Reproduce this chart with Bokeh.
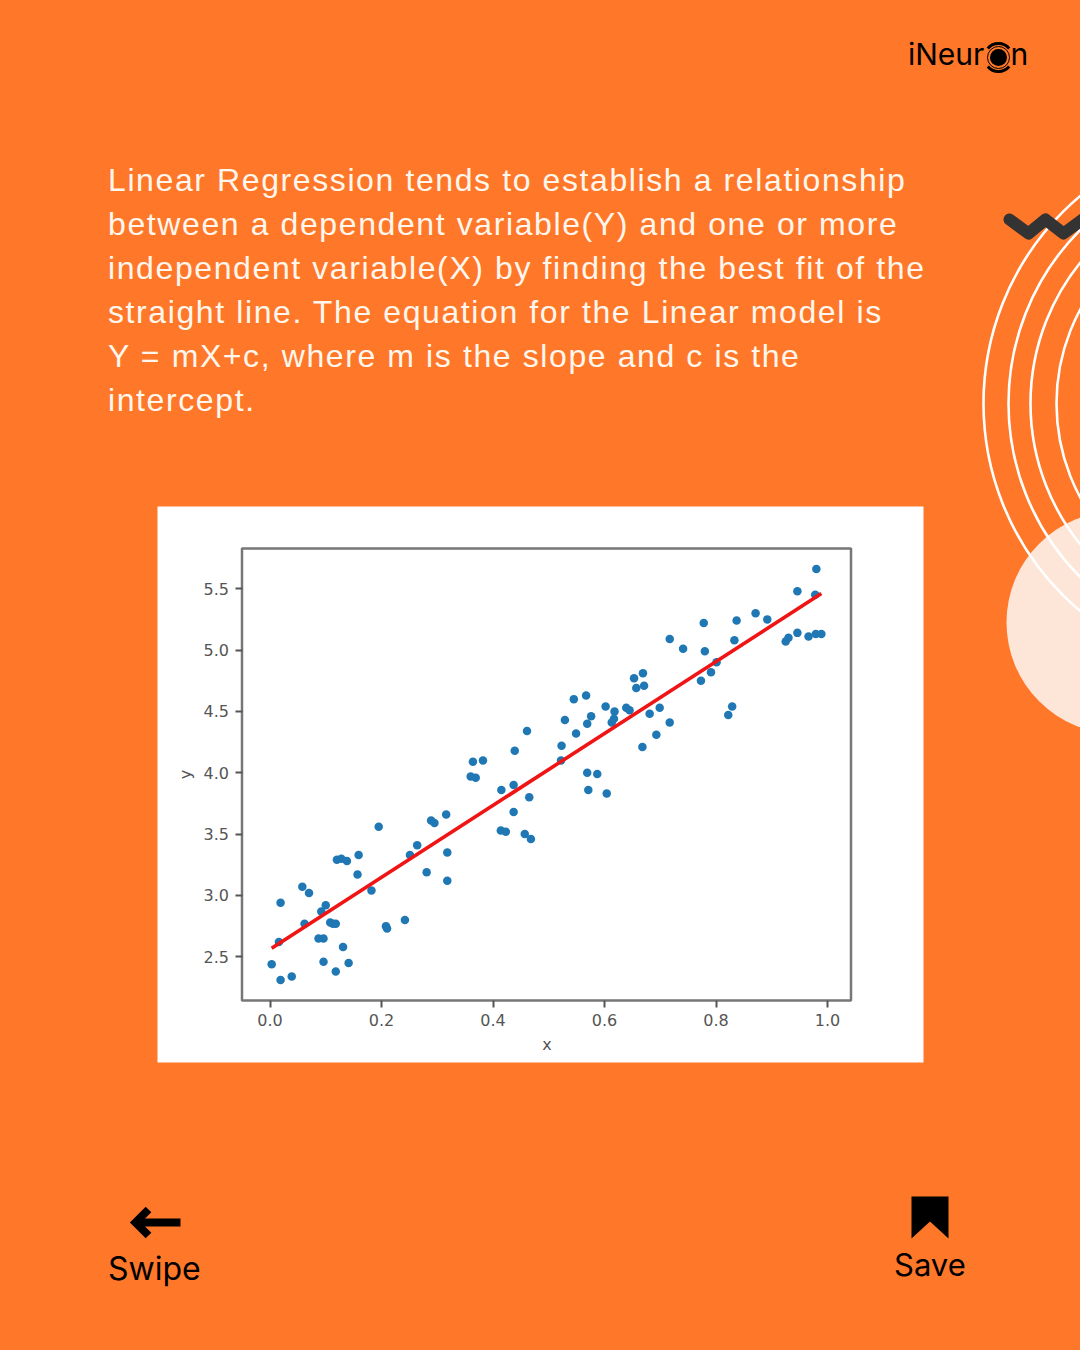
from bokeh.embed import file_html
from bokeh.layouts import column
from bokeh.models import FixedTicker, PrintfTickFormatter, Range1d
from bokeh.plotting import figure
from bokeh.resources import INLINE

# values
x_vals = [0.003, 0.019, 0.039, 0.016, 0.019, 0.058, 0.070, 0.062, 0.092, 0.100,
          0.087, 0.096, 0.096, 0.108, 0.113, 0.118, 0.118, 0.131, 0.141, 0.120,
          0.128, 0.138, 0.159, 0.157, 0.182, 0.195, 0.208, 0.210, 0.242, 0.251,
          0.264, 0.281, 0.289, 0.295, 0.316, 0.318, 0.318, 0.364, 0.382, 0.360,
          0.369, 0.415, 0.437, 0.439, 0.461, 0.465, 0.437, 0.414, 0.423, 0.457,
          0.468, 0.523, 0.522, 0.529, 0.549, 0.545, 0.567, 0.569, 0.576, 0.569,
          0.587, 0.571, 0.604, 0.602, 0.618, 0.617, 0.613, 0.639, 0.645, 0.653,
          0.669, 0.657, 0.671, 0.681, 0.699, 0.693, 0.668, 0.717, 0.717, 0.741,
          0.778, 0.780, 0.837, 0.833, 0.871, 0.892, 0.801, 0.791, 0.773, 0.829,
          0.822, 0.946, 0.980, 0.978, 0.925, 0.930, 0.946, 0.966, 0.979, 0.989]
y_vals = [2.44, 2.31, 2.34, 2.62, 2.94, 3.07, 3.02, 2.77, 2.87, 2.92,
          2.65, 2.65, 2.46, 2.78, 2.77, 2.77, 2.38, 2.58, 2.45, 3.29,
          3.30, 3.28, 3.33, 3.17, 3.04, 3.56, 2.75, 2.73, 2.80, 3.33,
          3.41, 3.19, 3.61, 3.59, 3.66, 3.35, 3.12, 4.09, 4.10, 3.97,
          3.96, 3.86, 3.90, 4.18, 4.34, 3.80, 3.68, 3.53, 3.52, 3.50,
          3.46, 4.22, 4.10, 4.43, 4.32, 4.60, 4.63, 4.40, 4.46, 4.00,
          3.99, 3.86, 3.83, 4.54, 4.50, 4.44, 4.41, 4.53, 4.51, 4.77,
          4.81, 4.69, 4.71, 4.48, 4.53, 4.31, 4.21, 4.41, 5.09, 5.01,
          5.22, 4.99, 5.24, 5.08, 5.30, 5.25, 4.90, 4.82, 4.75, 4.54,
          4.47, 5.48, 5.66, 5.45, 5.07, 5.10, 5.14, 5.11, 5.13, 5.13]
line_x = [0.003, 0.989]
line_y = [2.57, 5.46]
x_ticks = [0.0, 0.2, 0.4, 0.6, 0.8, 1.0]
y_ticks = [2.5, 3.0, 3.5, 4.0, 4.5, 5.0, 5.5]

para_lines = ["Linear Regression tends to establish a relationship",
              "between a dependent variable(Y) and one or more",
              "independent variable(X) by finding the best fit of the",
              "straight line. The equation for the Linear model is",
              "Y = mX+c, where m is the slope and c is the",
              "intercept."]

W, H = 1080, 1350
ORANGE = "#ff7729"
GRAY = "#555555"

# pixel calibration of the chart: data -> page
x_px = 557.5
x0_px = 269.5
y_px = 122.7
y25_px = 956.3
frame_l, frame_r, frame_t, frame_b = 241.5, 850.5, 548, 1000


def xd(px):
    return (px - x0_px) / x_px


def yd(py):
    return 2.5 + (y25_px - py) / y_px


p = figure(width=W, height=H, output_backend="svg", toolbar_location=None,
           x_range=Range1d(xd(0), xd(W)), y_range=Range1d(yd(H), yd(0)),
           min_border=0, background_fill_color=ORANGE, border_fill_color=ORANGE,
           outline_line_color=None)
p.grid.visible = False
p.extra_x_ranges["page"] = Range1d(0, W)
p.extra_y_ranges["page"] = Range1d(H, 0)
pg = dict(x_range_name="page", y_range_name="page")

# background decoration
p.circle([1117.5], [622], radius=111.5, fill_color="#fde6d7", line_color=None, **pg)
p.circle([1254] * 4, [403] * 4, radius=[271, 246, 224, 198], fill_color=None,
         line_color="white", line_width=2.6, **pg)
p.line([1009, 1028, 1045, 1063, 1082], [219, 233, 219, 233, 219], line_color="#333333",
       line_width=12, line_cap="round", line_join="round", **pg)

# white panel and axes box
p.quad(left=[157], right=[923], top=[506], bottom=[1062], fill_color="white", line_color=None, **pg)
p.quad(left=[frame_l], right=[frame_r], top=[frame_t], bottom=[frame_b], fill_color=None,
       line_color="#777777", line_width=2.5, **pg)

p.scatter(x_vals, y_vals, size=8.5, color="#1f77b4", line_color=None)
p.line(line_x, line_y, line_color="#f01414", line_width=3.6)

p.xaxis.fixed_location = yd(frame_b)
p.yaxis.fixed_location = xd(frame_l)
p.xaxis.bounds = (xd(frame_l), xd(frame_r))
p.yaxis.bounds = (yd(frame_b), yd(frame_t))
p.xaxis.ticker = FixedTicker(ticks=x_ticks)
p.yaxis.ticker = FixedTicker(ticks=y_ticks)
p.xaxis.formatter = PrintfTickFormatter(format="%.1f")
p.yaxis.formatter = PrintfTickFormatter(format="%.1f")
p.xaxis.axis_label = "x"
p.yaxis.axis_label = "y"
for ax in [p.xaxis, p.yaxis]:
    ax.axis_line_color = None
    ax.major_tick_line_color = GRAY
    ax.major_tick_line_width = 2
    ax.major_tick_out = 7
    ax.major_tick_in = 0
    ax.minor_tick_line_color = None
    ax.major_label_text_font = "DejaVu Sans"
    ax.major_label_text_font_size = "16px"
    ax.major_label_text_color = GRAY
    ax.axis_label_text_font = "DejaVu Sans"
    ax.axis_label_text_font_size = "16px"
    ax.axis_label_text_font_style = "normal"
    ax.axis_label_text_color = GRAY
p.xaxis.major_label_standoff = 6
p.yaxis.major_label_standoff = 6
p.xaxis.axis_label_standoff = 6
p.yaxis.axis_label_standoff = 6

# logo
p.text([907.5], [53], text=["iNeur"], text_font=["Inter"], text_font_size="30px",
       text_color="black", text_baseline="alphabetic", **pg)
p.text([1010], [53], text=["n"], text_font=["Inter"], text_font_size="30px",
       text_color="black", text_baseline="alphabetic", **pg)
p.circle([998], [57], radius=8.5, fill_color="black", line_color=None, **pg)
p.circle([998], [57], radius=11, fill_color=None, line_color="black", line_width=1, **pg)
p.arc([998, 998], [57, 57], radius=14, start_angle=[0.7, 3.84], end_angle=[2.44, 5.58],
      line_color="black", line_width=3, **pg)

# arrow and bookmark
p.line([137, 180], [1222, 1222], line_color="black", line_width=8, **pg)
p.line([148, 135, 148], [1209, 1222, 1235], line_color="black", line_width=8, line_join="miter", **pg)
p.patch([911, 948, 948, 929.5, 911], [1196, 1196, 1238, 1221, 1238], color="black", line_color=None, **pg)
p.text([107.5], [1268], text=["Swipe"], text_font=["Inter"], text_font_size="32px",
       text_font_style="normal", text_color="black", text_baseline="alphabetic", **pg)
p.text([893.5], [1264], text=["Save"], text_font=["Inter"], text_font_size="31px",
       text_font_style="normal", text_color="black", text_baseline="alphabetic", **pg)

# paragraph goes in its own transparent figure on top, because of the letter spacing
pt = figure(width=W, height=480, output_backend="svg", toolbar_location=None,
            x_range=Range1d(0, W), y_range=Range1d(480, 0), min_border=0,
            x_axis_location=None, y_axis_location=None, outline_line_color=None,
            background_fill_color=None, border_fill_color=None,
            styles={"position": "absolute", "left": "0px", "top": "0px", "letter-spacing": "1.6px"})
pt.grid.visible = False
pt.text([107.5] * 6, [179 + 44 * i for i in range(6)], text=para_lines,
        text_font=["Liberation Sans"] * 6, text_font_size="32px", text_color="#fff7ee",
        text_baseline="alphabetic")

out = column(p, pt)
html = file_html(out, INLINE)
html = html.replace("</head>", "<style>html,body{margin:0;background:%s;overflow:hidden}</style></head>" % ORANGE)
open("out.html", "w").write(html)
